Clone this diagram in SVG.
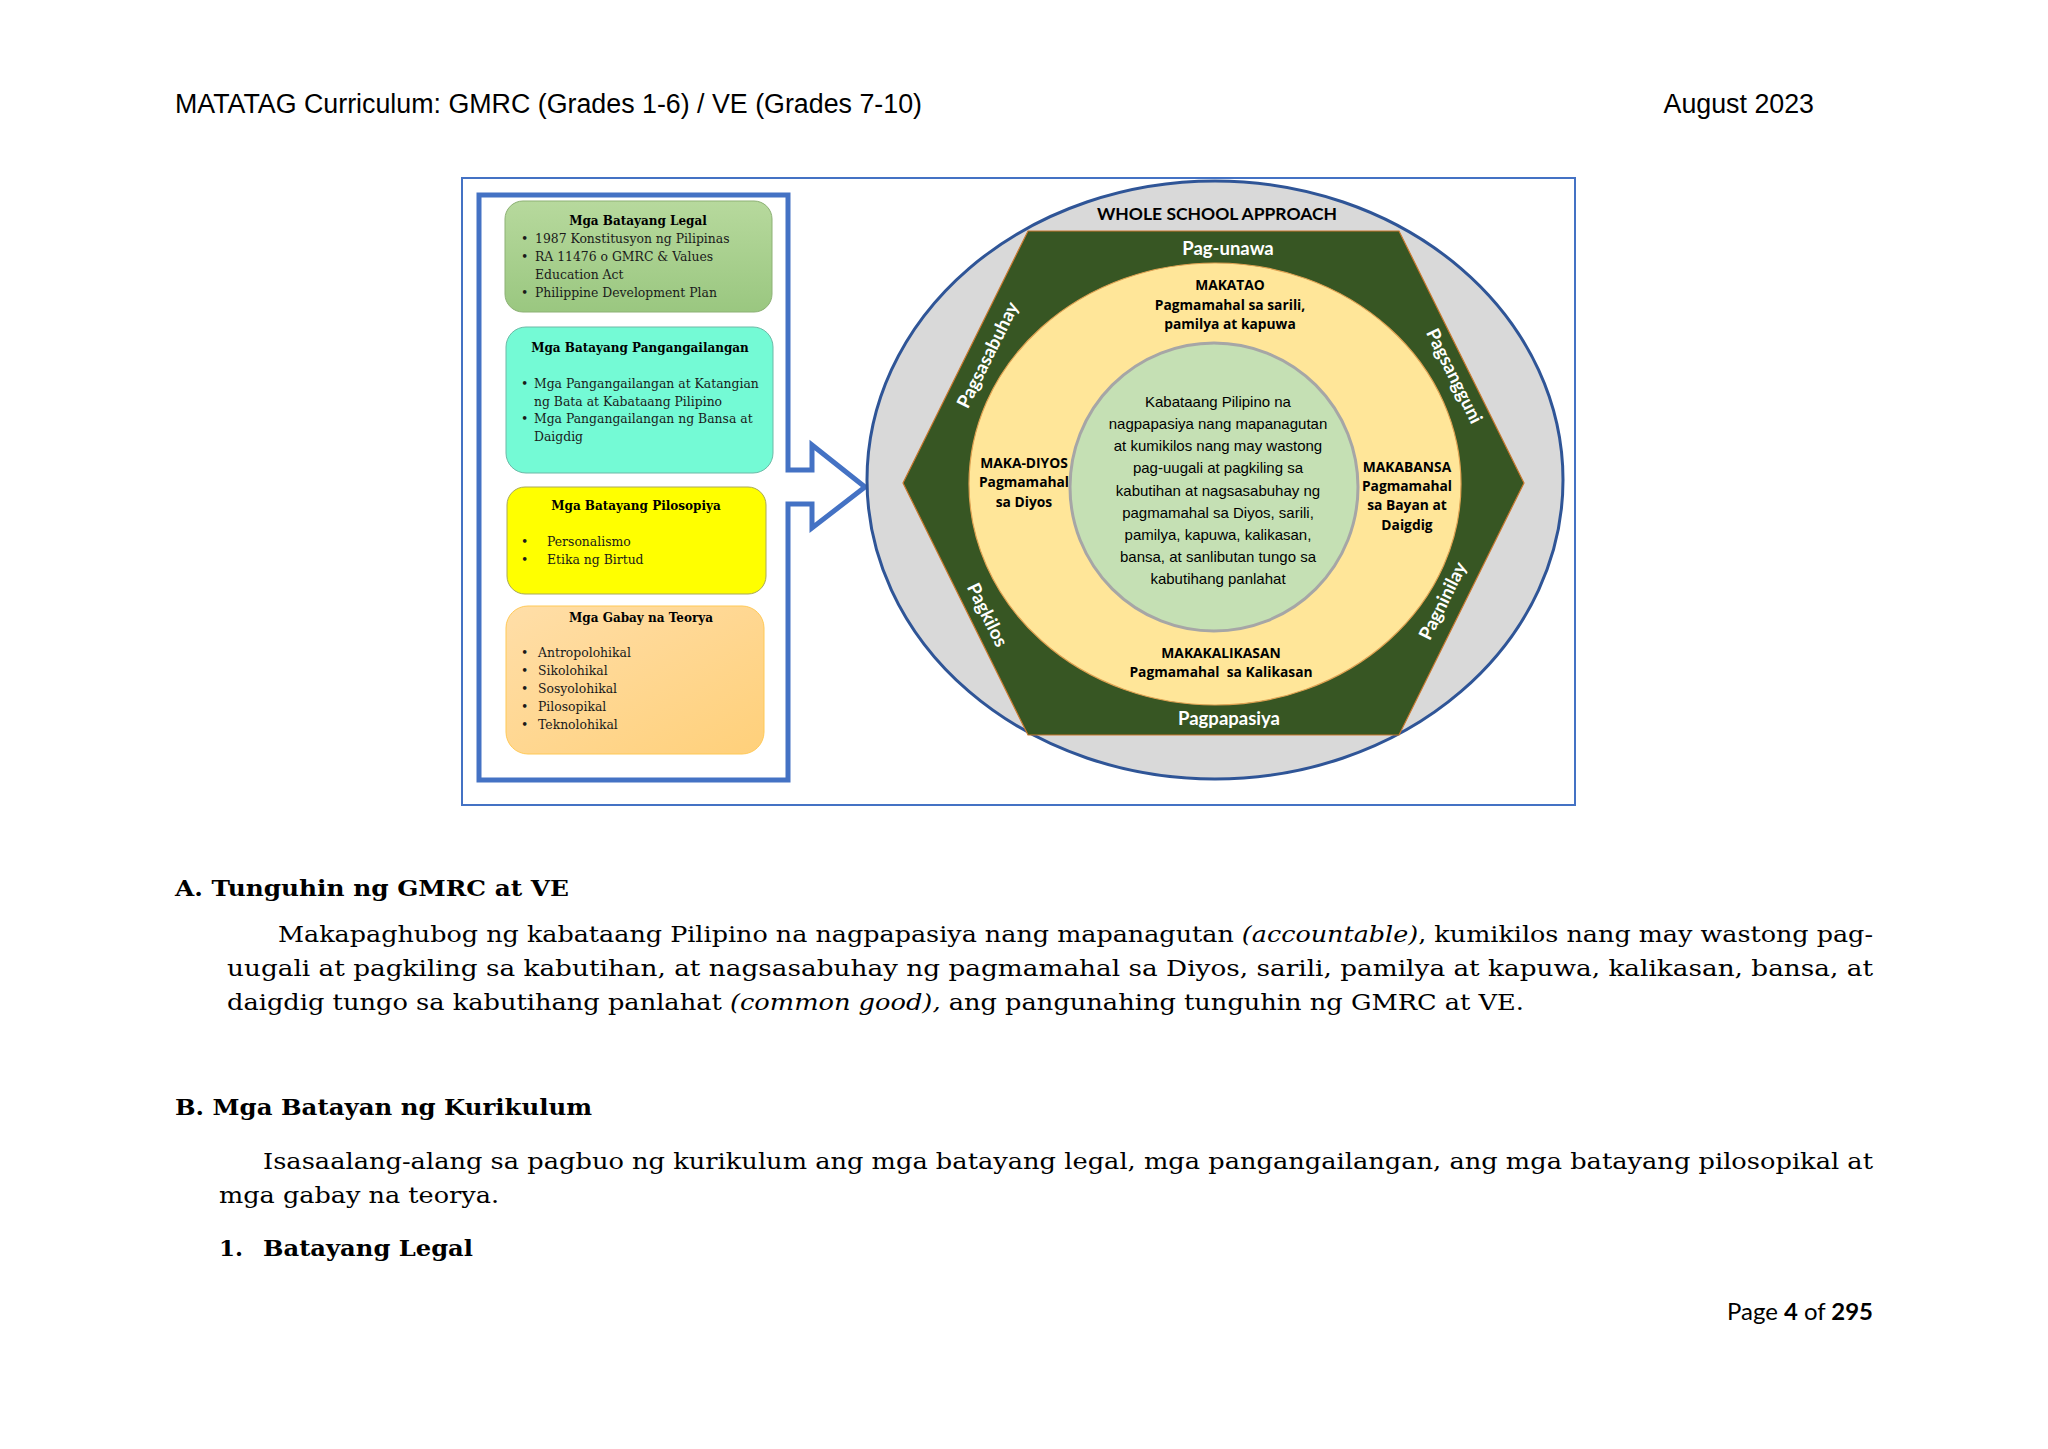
<svg xmlns="http://www.w3.org/2000/svg" width="2048" height="1449" viewBox="0 0 2048 1449">
<defs>
<linearGradient id="gLegal" x1="0" y1="0" x2="0" y2="1"><stop offset="0" stop-color="#B7D99D"/><stop offset="1" stop-color="#9AC780"/></linearGradient>
<linearGradient id="gTheory" x1="0" y1="0" x2="1" y2="1"><stop offset="0" stop-color="#FFDEA8"/><stop offset="1" stop-color="#FFD07A"/></linearGradient>
<style>
.hdr{font-family:"Liberation Sans",Arial,sans-serif;font-size:26.8px;fill:#000}
.bx{font-family:"DejaVu Serif",serif;font-size:12.4px;fill:#1a1a1a}
.bxt{font-family:"DejaVu Serif",serif;font-size:12px;font-weight:bold;fill:#000;text-anchor:middle}
.lbl{font-family:"Open Sans",Lato,sans-serif;font-weight:bold;font-size:13.8px;fill:#000;text-anchor:middle}
.wsa{font-family:Lato,"Open Sans",sans-serif;font-weight:bold;font-size:17.5px;fill:#000;text-anchor:middle}
.side{font-family:Lato,"Open Sans",sans-serif;font-weight:bold;font-size:18.5px;fill:#fff;text-anchor:middle}
.ctr{font-family:"Liberation Sans",Arial,sans-serif;font-size:15px;fill:#000;text-anchor:middle}
.body{font-family:"DejaVu Serif",serif;font-size:23px;fill:#000}
.bh{font-family:"DejaVu Serif",serif;font-size:23px;font-weight:bold;fill:#000}
.it{font-style:italic}
.box{stroke-width:1}
</style>
</defs>
<rect width="2048" height="1449" fill="#fff"/>

<g id="header">
<text class="hdr" x="175" y="113">MATATAG Curriculum: GMRC (Grades 1-6) / VE (Grades 7-10)</text>
<text class="hdr" x="1814" y="113" text-anchor="end">August 2023</text>
</g>

<g id="figure-frame">
<rect x="462" y="178" width="1113" height="627" fill="#fff" stroke="#4472C4" stroke-width="2"/>
</g>

<g id="connectors">
<path d="M812,470 L788,470 L788,195 L479,195 L479,780 L788,780 L788,504 L812,504 L812,528 L865,487 L812,445 Z" fill="none" stroke="#4472C4" stroke-width="5" stroke-linejoin="miter"/>
</g>

<g id="node-legal">
<rect class="box" x="505" y="201" width="267" height="111" rx="18" fill="url(#gLegal)" stroke="#8DB175"/>
<text class="bxt" x="638" y="225">Mga Batayang Legal</text>
<text class="bx" x="521" y="243">•</text><text class="bx" x="535" y="243">1987 Konstitusyon ng Pilipinas</text>
<text class="bx" x="521" y="261">•</text><text class="bx" x="535" y="261">RA 11476 o GMRC &amp; Values</text>
<text class="bx" x="535" y="279">Education Act</text>
<text class="bx" x="521" y="297">•</text><text class="bx" x="535" y="297">Philippine Development Plan</text>
</g>

<g id="node-pangangailangan">
<rect class="box" x="506" y="327" width="267" height="146" rx="20" fill="#74FAD5" stroke="#6CB9A6"/>
<text class="bxt" x="640" y="352">Mga Batayang Pangangailangan</text>
<text class="bx" x="521" y="388">•</text><text class="bx" x="534" y="388">Mga Pangangailangan at Katangian</text>
<text class="bx" x="534" y="406">ng Bata at Kabataang Pilipino</text>
<text class="bx" x="521" y="423">•</text><text class="bx" x="534" y="423">Mga Pangangailangan ng Bansa at</text>
<text class="bx" x="534" y="441">Daigdig</text>
</g>

<g id="node-pilosopiya">
<rect class="box" x="507" y="487" width="259" height="107" rx="18" fill="#FFFF00" stroke="#A9A95A"/>
<text class="bxt" x="636" y="510">Mga Batayang Pilosopiya</text>
<text class="bx" x="521" y="546">•</text><text class="bx" x="547" y="546">Personalismo</text>
<text class="bx" x="521" y="564">•</text><text class="bx" x="547" y="564">Etika ng Birtud</text>
</g>

<g id="node-teorya">
<rect class="box" x="506" y="606" width="258" height="148" rx="22" fill="url(#gTheory)" stroke="#FFC957"/>
<text class="bxt" x="641" y="622">Mga Gabay na Teorya</text>
<text class="bx" x="521" y="657">•</text><text class="bx" x="538" y="657">Antropolohikal</text>
<text class="bx" x="521" y="675">•</text><text class="bx" x="538" y="675">Sikolohikal</text>
<text class="bx" x="521" y="693">•</text><text class="bx" x="538" y="693">Sosyolohikal</text>
<text class="bx" x="521" y="711">•</text><text class="bx" x="538" y="711">Pilosopikal</text>
<text class="bx" x="521" y="729">•</text><text class="bx" x="538" y="729">Teknolohikal</text>
</g>

<g id="node-whole-school">
<ellipse cx="1215" cy="480" rx="348" ry="299" fill="#D9D9D9" stroke="#2F5597" stroke-width="3"/>
<text class="wsa" x="1217" y="220">WHOLE SCHOOL APPROACH</text>
</g>

<g id="node-hexagon">
<polygon points="1028,231 1399,231 1524,483 1399,735 1028,735 903,483" fill="#375623" stroke="#C9782E" stroke-width="1.2"/>
<text class="side" x="1228" y="255">Pag-unawa</text>
<text class="side" x="1229" y="725">Pagpapasiya</text>
<text class="side" transform="translate(988,355) rotate(-63.6)" x="0" y="6">Pagsasabuhay</text>
<text class="side" transform="translate(1454,376) rotate(63.6)" x="0" y="6">Pagsangguni</text>
<text class="side" transform="translate(987,615) rotate(63.6)" x="0" y="6">Pagkilos</text>
<text class="side" transform="translate(1443,601) rotate(-63.6)" x="0" y="6">Pagninilay</text>
</g>

<g id="node-values">
<ellipse cx="1215" cy="484" rx="246" ry="221" fill="#FFE699" stroke="#E0A252" stroke-width="1.2"/>
<text class="lbl" x="1230" y="290">MAKATAO</text>
<text class="lbl" x="1230" y="310">Pagmamahal sa sarili,</text>
<text class="lbl" x="1230" y="329">pamilya at kapuwa</text>
<text class="lbl" x="1024" y="468">MAKA-DIYOS</text>
<text class="lbl" x="1024" y="487">Pagmamahal</text>
<text class="lbl" x="1024" y="507">sa Diyos</text>
<text class="lbl" x="1407" y="472">MAKABANSA</text>
<text class="lbl" x="1407" y="491">Pagmamahal</text>
<text class="lbl" x="1407" y="510">sa Bayan at</text>
<text class="lbl" x="1407" y="530">Daigdig</text>
<text class="lbl" x="1221" y="658">MAKAKALIKASAN</text>
<text class="lbl" x="1221" y="677" xml:space="preserve">Pagmamahal  sa Kalikasan</text>
</g>

<g id="node-center">
<circle cx="1214" cy="487" r="144" fill="#C5E0B4" stroke="#A6A6A6" stroke-width="3"/>
<text class="ctr" x="1218" y="407">Kabataang Pilipino na</text>
<text class="ctr" x="1218" y="429">nagpapasiya nang mapanagutan</text>
<text class="ctr" x="1218" y="451">at kumikilos nang may wastong</text>
<text class="ctr" x="1218" y="473">pag-uugali at pagkiling sa</text>
<text class="ctr" x="1218" y="496">kabutihan at nagsasabuhay ng</text>
<text class="ctr" x="1218" y="518">pagmamahal sa Diyos, sarili,</text>
<text class="ctr" x="1218" y="540">pamilya, kapuwa, kalikasan,</text>
<text class="ctr" x="1218" y="562">bansa, at sanlibutan tungo sa</text>
<text class="ctr" x="1218" y="584">kabutihang panlahat</text>
</g>

<g id="section-a">
<text class="bh" x="175" y="896" textLength="394" lengthAdjust="spacingAndGlyphs">A. Tunguhin ng GMRC at VE</text>
<text class="body" x="278" y="942" textLength="1595" lengthAdjust="spacingAndGlyphs">Makapaghubog ng kabataang Pilipino na nagpapasiya nang mapanagutan <tspan class="it">(accountable)</tspan>, kumikilos nang may wastong pag-</text>
<text class="body" x="227" y="976" textLength="1646" lengthAdjust="spacingAndGlyphs">uugali at pagkiling sa kabutihan, at nagsasabuhay ng pagmamahal sa Diyos, sarili, pamilya at kapuwa, kalikasan, bansa, at</text>
<text class="body" x="227" y="1010" textLength="1297" lengthAdjust="spacingAndGlyphs">daigdig tungo sa kabutihang panlahat <tspan class="it">(common good),</tspan> ang pangunahing tunguhin ng GMRC at VE.</text>
</g>

<g id="section-b">
<text class="bh" x="175" y="1115" textLength="417" lengthAdjust="spacingAndGlyphs">B. Mga Batayan ng Kurikulum</text>
<text class="body" x="263" y="1169" textLength="1610" lengthAdjust="spacingAndGlyphs">Isasaalang-alang sa pagbuo ng kurikulum ang mga batayang legal, mga pangangailangan, ang mga batayang pilosopikal at</text>
<text class="body" x="219" y="1203" textLength="280" lengthAdjust="spacingAndGlyphs">mga gabay na teorya.</text>
<text class="bh" x="219" y="1256">1.</text>
<text class="bh" x="263" y="1256" textLength="210" lengthAdjust="spacingAndGlyphs">Batayang Legal</text>
</g>

<g id="footer">
<text x="1873" y="1320" text-anchor="end" textLength="146" lengthAdjust="spacingAndGlyphs" style="font-family:Lato,'Open Sans',sans-serif;font-size:23px;fill:#000">Page <tspan font-weight="bold">4</tspan> of <tspan font-weight="bold">295</tspan></text>
</g>
</svg>
